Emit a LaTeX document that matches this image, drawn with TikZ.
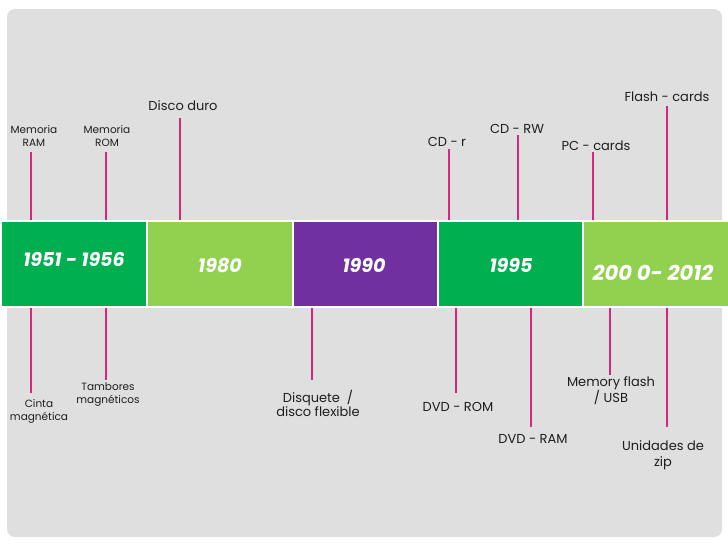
\documentclass[tikz,border=0pt]{standalone}
\usepackage{fontspec}
\setmainfont{Poppins}
\newfontfamily\yearfont{Poppins}
\definecolor{bggray}{RGB}{223,223,223}
\definecolor{gOne}{RGB}{0,176,80}
\definecolor{gTwo}{RGB}{146,208,80}
\definecolor{pOne}{RGB}{112,48,160}
\definecolor{pinkline}{RGB}{214,40,122}
\definecolor{txt}{RGB}{30,30,30}
\begin{document}
\begin{tikzpicture}[x=1pt,y=-1pt,
  seg/.style={draw=white, line width=1.5pt, minimum height=86pt, inner sep=0pt, anchor=north west},
  yr/.style={text=white, inner sep=0pt, font=\yearfont\bfseries\itshape\fontsize{19}{19}\selectfont},
  lbl/.style={text=txt, inner sep=0pt, align=center, font=\fontsize{13}{16}\selectfont},
  slbl/.style={text=txt, inner sep=0pt, align=center, font=\fontsize{10.5}{13}\selectfont},
  pin/.style={draw=pinkline, line width=1.4pt}]
\useasboundingbox (0,0) rectangle (728,546);
\fill[white] (0,0) rectangle (728,546);
\fill[bggray, rounded corners=8pt] (7,9) rectangle (722,537);

% top labels
\node[slbl] (mram) at (34,136) {Memoria\\RAM};
\node[slbl] (mrom) at (107,136) {Memoria\\ROM};
\node[lbl] (dd) at (183,106) {Disco duro};
\node[lbl] (cdr) at (447,142) {CD - r};
\node[lbl] (cdrw) at (517,129) {CD - RW};
\node[lbl] (pcc) at (596,146) {PC - cards};
\node[lbl] (flc) at (667,97) {Flash - cards};

% bottom labels
\node[slbl] (cinta) at (39,411) {Cinta\\magnética};
\node[slbl] (tamb) at (108,395) {Tambores\\magnéticos};
\node[lbl, font=\fontsize{13}{14}\selectfont] (disq) at (318,403) {Disquete \ /\\disco flexible};
\node[lbl] (dvdrom) at (458,407) {DVD - ROM};
\node[lbl] (dvdram) at (533,439) {DVD - RAM};
\node[lbl] (mfl) at (611,391) {Memory flash\\/ USB};
\node[lbl] (unz) at (663,455) {Unidades de\\zip};

% connector end points
\coordinate (a1) at (31,152);  \coordinate (b1) at (31,220);
\coordinate (a2) at (106,152); \coordinate (b2) at (106,220);
\coordinate (a3) at (180,118); \coordinate (b3) at (180,220);
\coordinate (a4) at (449,149); \coordinate (b4) at (449,220);
\coordinate (a5) at (518,135); \coordinate (b5) at (518,220);
\coordinate (a6) at (593,152); \coordinate (b6) at (593,220);
\coordinate (a7) at (667,106); \coordinate (b7) at (667,220);
\coordinate (c1) at (31,306);  \coordinate (d1) at (31,393);
\coordinate (c2) at (106,306); \coordinate (d2) at (106,380);
\coordinate (c3) at (312,306); \coordinate (d3) at (312,380);
\coordinate (c4) at (456,306); \coordinate (d4) at (456,393);
\coordinate (c5) at (531,306); \coordinate (d5) at (531,427);
\coordinate (c6) at (610,306); \coordinate (d6) at (610,375);
\coordinate (c7) at (667,306); \coordinate (d7) at (667,427);

\foreach \i in {1,...,7}{
  \draw[pin] (a\i) -- (b\i);
  \draw[pin] (c\i) -- (d\i);
}

% timeline segments
\node[seg, fill=gOne, minimum width=146pt] (s1) at (0,220) {};
\node[seg, fill=gTwo, minimum width=146pt] (s2) at (146,220) {};
\node[seg, fill=pOne, minimum width=146pt] (s3) at (292,220) {};
\node[seg, fill=gOne, minimum width=145pt] (s4) at (437,220) {};
\node[seg, fill=gTwo, minimum width=146pt] (s5) at (582,220) {};

\node[yr] (y1) at (74,259) {1951 - 1956};
\node[yr] (y2) at (220,265) {1980};
\node[yr] (y3) at (364,265) {1990};
\node[yr] (y4) at (511,265) {1995};
\node[yr, font=\yearfont\bfseries\itshape\fontsize{21}{21}\selectfont] (y5) at (653,273) {200 0- 2012};
\end{tikzpicture}
\end{document}
